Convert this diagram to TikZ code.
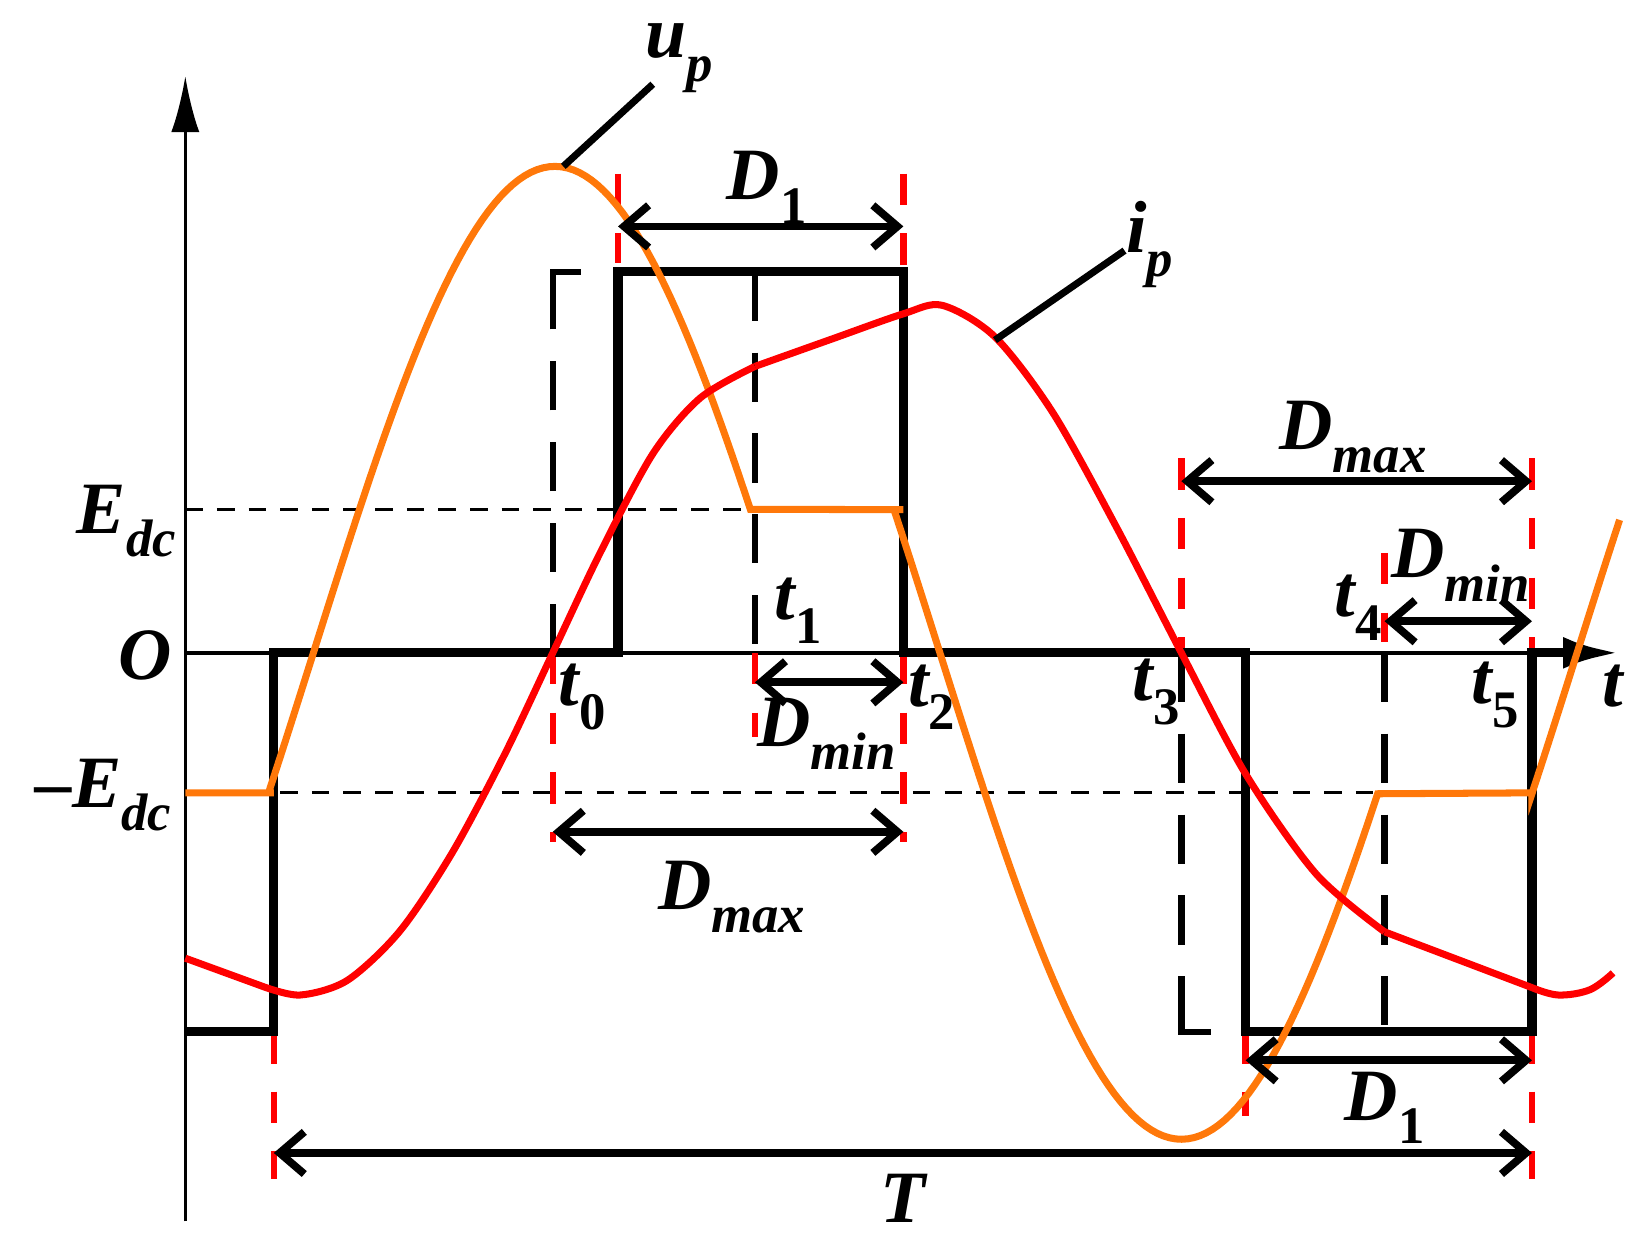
\documentclass[tikz,border=0pt]{standalone}
\usepackage{fontspec}
\setmainfont{Liberation Serif}
\usetikzlibrary{arrows.meta}
\newcommand\lb[2]{#1\raisebox{-0.32em}{\fontsize{15}{15}\selectfont #2}}
\begin{document}
\begin{tikzpicture}[x=0.01053cm,y=-0.01053cm,
  lab/.style={font=\fontsize{21}{21}\selectfont\bfseries\itshape,inner sep=1pt},
  sq/.style={line width=2.6pt,black},
  bdash/.style={line width=1.8pt,dash pattern=on 14pt off 9pt},
  rdash/.style={line width=1.8pt,red,dash pattern=on 9pt off 8pt},
  dim/.style={line width=2.2pt,{Straight Barb[length=7pt,width=12pt]}-{Straight Barb[length=7pt,width=12pt]}},
  lev/.style={line width=0.9pt,dash pattern=on 5pt off 4pt},
  orangec/.style={line width=2pt,color={rgb,255:red,255;green,120;blue,10}},
  redc/.style={line width=2pt,red}]
\useasboundingbox (0,0) rectangle (1569,1189);
% axes
\coordinate (yb) at (176,1160); \coordinate (yt) at (176,72);
\coordinate (xl) at (176,620); \coordinate (xr) at (1538,620);
\draw[line width=1pt,-{Latex[length=16pt,width=8pt]}] (yb) -- (yt);
\draw[line width=1pt] (xl) -- (1500,620);
% levels
\draw[lev] (176,484) -- (858,484);
\draw[lev] (176,753) -- (1455,753);
% red dashed verticals
\draw[rdash] (260,980) -- (260,1120);
\draw[rdash] (525,620) -- (525,800);
\draw[rdash] (587,165) -- (587,250);
\draw[rdash] (858,165) -- (858,260);
\draw[rdash] (858,620) -- (858,800);
\draw[rdash] (717,620) -- (717,700);
\draw[rdash] (1122,435) -- (1122,620);
\draw[rdash] (1455,435) -- (1455,620);
\draw[rdash] (1455,980) -- (1455,1120);
\draw[rdash] (1183,980) -- (1183,1060);
\draw[rdash] (1315,525) -- (1315,610);
% black dashed
\draw[bdash] (525,620) -- (525,290);
\draw[line width=1.8pt] (525,292) -- (525,258) -- (552,258);
\draw[bdash] (717,258) -- (717,620);
\draw[bdash] (1122,620) -- (1122,950);
\draw[line width=1.8pt] (1122,948) -- (1122,980) -- (1150,980);
\draw[bdash] (1315,620) -- (1315,980);
% square wave
\draw[sq] (176,980) -- (260,980) -- (260,620) -- (587,620) -- (587,258) -- (858,258) -- (858,620) -- (1183,620) -- (1183,980) -- (1455,980) -- (1455,620) -- (1500,620);
\draw[line width=2.6pt,-{Latex[length=16pt,width=9pt]}] (1495,620) -- (xr);
% orange u_p
\draw[orangec] (176,753) -- (260,753)
  -- plot[domain=-0.292:2.843,samples=80] ({527+146*(\x-1.5708)},{620-462*sin(\x r)})
  -- (858,484)
  -- plot[domain=2.843:5.99,samples=80] ({1122+146*(\x-4.7124)},{620-462*sin(\x r)})
  -- (1455,753)
  -- plot[domain=5.99:6.56,samples=20] ({1455+146*(\x-5.99)},{620-462*sin(\x r)});
% red i_p
\draw[redc] (176,910) -- (250,937)
  plot[smooth,tension=0.5] coordinates {(250,937) (285,945) (330,931) (380,884) (430,809) (480,715) (525,620) (570,525) (620,431) (665,378) (717,348)};
\draw[redc] plot[smooth,tension=0.5] coordinates {(717,348) (790,322) (858,298) (895,290) (945,320) (1000,392) (1060,500) (1122,620) (1183,735) (1250,830) (1315,885)};
\draw[redc] (1315,885) -- (1455,938)
  plot[smooth,tension=0.6] coordinates {(1455,938) (1480,945) (1510,940) (1532,924)};
% dimension arrows
\draw[dim] (587,215) -- (858,215);
\draw[dim] (717,648) -- (858,648);
\draw[dim] (525,790) -- (858,790);
\draw[dim] (1122,457) -- (1455,457);
\draw[dim] (1315,590) -- (1455,590);
\draw[dim] (1183,1007) -- (1455,1007);
\draw[dim] (260,1095) -- (1455,1095);
% labels
\node[lab] (D1a) at (728,178) {\lb{D}{\upshape 1}};
\node[lab] (Dmina) at (785,697) {\lb{D}{min}};
\node[lab] (Dmaxa) at (695,852) {\lb{D}{max}};
\node[lab] (Dmaxb) at (1285,415) {\lb{D}{max}};
\node[lab] (Dminb) at (1387,537) {\lb{D}{min}};
\node[lab] (D1b) at (1315,1052) {\lb{D}{\upshape 1}};
\node[lab] (T) at (858,1138) {T};
\node[lab] (up) at (645,55) {\lb{u}{p}};
\node[lab] (ip) at (1092,232) {\lb{i}{p}};
\coordinate (upc) at (535,158); \coordinate (ipc) at (945,323);
\draw[line width=2pt] (upc) -- (620,80);
\draw[line width=2pt] (ipc) -- (1068,238);
\node[lab] (Edc) at (120,495) {\lb{E}{dc}};
\node[lab] (O) at (138,622) {O};
\node[lab] (mEdc) at (98,755) {\lb{\textendash E}{dc}};
\node[lab] (t0) at (553,662) {\lb{t}{\upshape 0}};
\node[lab] (t1) at (758,580) {\lb{t}{\upshape 1}};
\node[lab] (t2) at (885,662) {\lb{t}{\upshape 2}};
\node[lab] (t3) at (1098,657) {\lb{t}{\upshape 3}};
\node[lab] (t4) at (1290,577) {\lb{t}{\upshape 4}};
\node[lab] (t5) at (1420,660) {\lb{t}{\upshape 5}};
\node[lab] (t) at (1532,652) {t};
\end{tikzpicture}
\end{document}
